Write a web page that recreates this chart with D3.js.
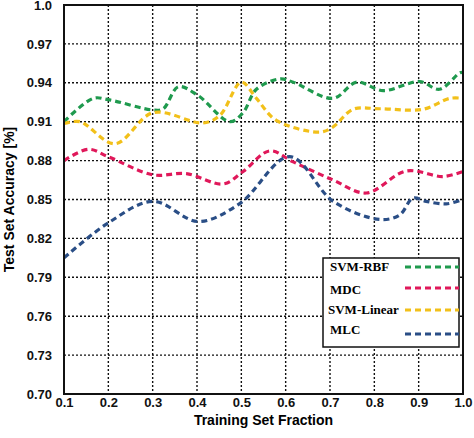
<!DOCTYPE html>
<html>
<head>
<style>
body { margin: 0; background: #fff; }
.tick text { font-family: Arial, "Liberation Sans", sans-serif; font-weight: bold; font-size: 13px; fill: #111; }
</style>
<script src="https://cdn.jsdelivr.net/npm/d3@7"></script>
</head>
<body>
<svg id="chart" width="474" height="438"></svg>
<script>
// series data
var rbfX = [0.1, 0.166, 0.2, 0.301, 0.324, 0.358, 0.403, 0.474, 0.504, 0.534, 0.587, 0.617, 0.707, 0.76, 0.82, 0.902, 0.947, 0.993, 1.0];
var rbfY = [0.910, 0.928, 0.927, 0.919, 0.920, 0.937, 0.930, 0.910, 0.917, 0.935, 0.943, 0.9405, 0.928, 0.9405, 0.934, 0.941, 0.935, 0.9477, 0.948];
var linX = [0.1, 0.136, 0.215, 0.301, 0.414, 0.452, 0.5, 0.534, 0.579, 0.677, 0.707, 0.752, 0.812, 0.91, 0.97, 1.0];
var linY = [0.9086, 0.910, 0.893, 0.917, 0.909, 0.915, 0.9405, 0.928, 0.911, 0.902, 0.906, 0.9196, 0.920, 0.9196, 0.928, 0.928];
var mdcX = [0.1, 0.155, 0.2, 0.301, 0.376, 0.459, 0.504, 0.564, 0.617, 0.707, 0.782, 0.872, 0.955, 1.0];
var mdcY = [0.880, 0.8887, 0.883, 0.869, 0.870, 0.862, 0.8716, 0.8875, 0.879, 0.865, 0.855, 0.872, 0.8677, 0.8716];
var mlcX = [0.1, 0.2, 0.301, 0.403, 0.497, 0.609, 0.707, 0.812, 0.857, 0.887, 0.917, 0.962, 1.0];
var mlcY = [0.805, 0.832, 0.8486, 0.833, 0.847, 0.883, 0.8486, 0.8346, 0.838, 0.851, 0.8486, 0.8466, 0.850];

var xTicks = [0.1, 0.2, 0.3, 0.4, 0.5, 0.6, 0.7, 0.8, 0.9, 1.0];
var yTicks = [0.70, 0.73, 0.76, 0.79, 0.82, 0.85, 0.88, 0.91, 0.94, 0.97, 1.0];
var yLabels = ['0.70', '0.73', '0.76', '0.79', '0.82', '0.85', '0.88', '0.91', '0.94', '0.97', '1.0'];

var series = [
  { name: 'SVM-RBF', color: '#1f9a4e', x: rbfX, y: rbfY },
  { name: 'MDC', color: '#e0185a', x: mdcX, y: mdcY },
  { name: 'SVM-Linear', color: '#f2c01a', x: linX, y: linY },
  { name: 'MLC', color: '#2a4e86', x: mlcX, y: mlcY }
];

var pLeft = 64, pRight = 463, pTop = 5, pBottom = 394;
var svg = d3.select('#chart');
var x = d3.scaleLinear().domain([0.1, 1.0]).range([pLeft, pRight]);
var y = d3.scaleLinear().domain([0.70, 1.0]).range([pBottom, pTop]);

// grid
svg.append('g').selectAll('line').data(xTicks.slice(1, -1)).enter().append('line')
  .attr('x1', d => x(d)).attr('x2', d => x(d)).attr('y1', pTop).attr('y2', pBottom)
  .attr('stroke', '#111').attr('stroke-width', 1.4).attr('stroke-dasharray', '2,2');
svg.append('g').selectAll('line').data(yTicks.slice(1, -1)).enter().append('line')
  .attr('y1', d => y(d)).attr('y2', d => y(d)).attr('x1', pLeft).attr('x2', pRight)
  .attr('stroke', '#111').attr('stroke-width', 1.4).attr('stroke-dasharray', '2,2');

// axes
svg.append('g').attr('transform', 'translate(0,' + pBottom + ')')
  .call(d3.axisBottom(x).tickValues(xTicks).tickFormat(d3.format('.1f')).tickSize(0).tickPadding(4))
  .call(g => g.select('.domain').remove());
svg.append('g').attr('transform', 'translate(' + pLeft + ',0)')
  .call(d3.axisLeft(y).tickValues(yTicks).tickFormat((d, i) => yLabels[i]).tickSize(0).tickPadding(12))
  .call(g => g.select('.domain').remove());

// lines
var line = d3.line().curve(d3.curveCatmullRom.alpha(0.5));
series.forEach(function(s) {
  var pts = s.x.map((v, i) => [x(v), y(s.y[i])]);
  svg.append('path').attr('d', line(pts)).attr('fill', 'none')
    .attr('stroke', s.color).attr('stroke-width', 3.2).attr('stroke-dasharray', '6,4');
});

// frame
svg.append('rect').attr('x', pLeft).attr('y', pTop).attr('width', pRight - pLeft).attr('height', pBottom - pTop)
  .attr('fill', 'none').attr('stroke', '#111').attr('stroke-width', 2);

// legend
var lg = svg.append('g');
lg.append('rect').attr('x', 323).attr('y', 258).attr('width', 136).attr('height', 89)
  .attr('fill', '#fff').attr('stroke', '#111').attr('stroke-width', 1.5);
var ly = [267, 288, 310, 334];
var ty = [271, 294, 314, 334];
series.forEach(function(s, i) {
  lg.append('text').attr('x', i === 2 ? 328 : 330).attr('y', ty[i]).text(s.name)
    .attr('font-family', '"Liberation Serif", "Times New Roman", serif').attr('font-weight', 'bold').attr('font-size', 13);
  lg.append('line').attr('x1', 405).attr('x2', 459).attr('y1', ly[i]).attr('y2', ly[i])
    .attr('stroke', s.color).attr('stroke-width', 3.2).attr('stroke-dasharray', '6,4');
});

// titles
svg.append('text').attr('x', (pLeft + pRight) / 2).attr('y', 425).attr('text-anchor', 'middle')
  .attr('font-family', 'Arial, "Liberation Sans", sans-serif').attr('font-weight', 'bold').attr('font-size', 14)
  .text('Training Set Fraction');
svg.append('text').attr('transform', 'translate(14,' + ((pTop + pBottom) / 2) + ') rotate(-90)')
  .attr('text-anchor', 'middle')
  .attr('font-family', 'Arial, "Liberation Sans", sans-serif').attr('font-weight', 'bold').attr('font-size', 14)
  .text('Test Set Accuracy [%]');
</script>
</body>
</html>
